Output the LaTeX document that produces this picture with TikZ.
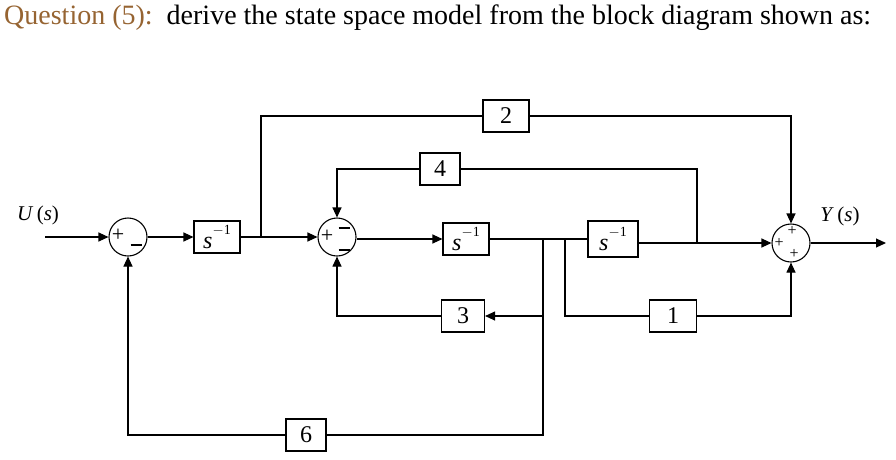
\documentclass[tikz,border=0pt]{standalone}
\usepackage{fontspec}
\setmainfont{Liberation Serif}
\usetikzlibrary{arrows.meta}
\definecolor{qbrown}{RGB}{150,100,50}
\newcommand{\sinv}{\textit{s}\raisebox{0.55em}{\fontsize{14}{14}\selectfont$-$1}}
\begin{document}
\begin{tikzpicture}[x=1pt,y=-1pt,
  blk/.style={draw,line width=1.1pt,minimum width=46pt,minimum height=32pt,inner sep=0pt,font=\fontsize{24}{24}\selectfont},
  sb/.style={draw,line width=1.1pt,circle,minimum size=38pt,inner sep=0pt},
  w/.style={line width=1.1pt},
  a/.style={w,-{Triangle[length=10pt,width=9pt]}},
  sg/.style={font=\fontsize{22}{22}\selectfont,inner sep=0pt},
  sgs/.style={font=\fontsize{16}{16}\selectfont,inner sep=0pt}]
\useasboundingbox (0,0) rectangle (896,459);
\node[anchor=west,inner sep=0pt,font=\fontsize{28}{28}\selectfont] (t) at (4,18) {\textcolor{qbrown}{Question (5):}\ \ derive the state space model from the block diagram shown as:};
% sums
\node[sb] (s1) at (128,237) {};
\node[sb] (s2) at (337,237) {};
\node[sb] (s3) at (791,243) {};
\node[sg] (p1) at (118,235) {+};
\node[sg] (m1) at (136,245) {\rule{11pt}{1.2pt}};
\node[sg] (p2) at (327,236) {+};
\node[sg] (m2a) at (344,228) {\rule{11pt}{1.2pt}};
\node[sg] (m2b) at (344,250) {\rule{11pt}{1.2pt}};
\node[sgs] (p3a) at (792,231) {+};
\node[sgs] (p3b) at (779,243) {+};
\node[sgs] (p3c) at (794,254) {+};
% blocks
\node[blk] (i1) at (217,237) {\sinv};
\node[blk] (i2) at (466,239) {\sinv};
\node[blk,minimum width=50pt,minimum height=36pt] (i3) at (613,239) {\sinv};
\node[blk,minimum width=46pt] (b2) at (506,116) {2};
\node[blk,minimum width=40pt] (b4) at (440,169) {4};
\node[blk,minimum width=43pt] (b3) at (463,316) {3};
\node[blk,minimum width=47pt] (b1) at (673,316) {1};
\node[blk,minimum width=40pt] (b6) at (306,435) {6};
% labels
\node[font=\fontsize{21}{21}\selectfont] (u) at (38,215) {\textit{U}\,(\textit{s})};
\node[font=\fontsize{21}{21}\selectfont] (y) at (840,216) {\textit{Y}\,(\textit{s})};
\coordinate (uin) at (45,237);
\coordinate (yout) at (886,243);
\coordinate (j1) at (261,237);
\coordinate (ja) at (543,239);
\coordinate (jb) at (565,239);
\coordinate (jc) at (697,243);
% connectors
\draw[a] (uin) -- (s1);
\draw[a] (s1) -- (i1);
\draw[a] (i1) -- (s2);
\draw[w] (j1) |- (b2.west);
\draw[a] (b2.east) -| (s3.north);
\draw[a] (b4.west) -| (s2.north);
\draw[w] (b4.east) -| (jc);
\draw[a] (s2.east |- i2) -- (i2.west);
\draw[w] (i2.east) -- (i3.west);
\draw[w] (ja) |- (b6.east);
\draw[a] (ja |- b3) -- (b3.east);
\draw[w] (jb) |- (b1.west);
\draw[a] (b3.west) -| (s2.south);
\draw[a] (b1.east) -| (s3.south);
\draw[a] (b6.west) -| (s1.south);
\draw[a] (i3.east |- s3) -- (s3.west);
\draw[a] (s3.east) -- (yout);
\end{tikzpicture}
\end{document}
